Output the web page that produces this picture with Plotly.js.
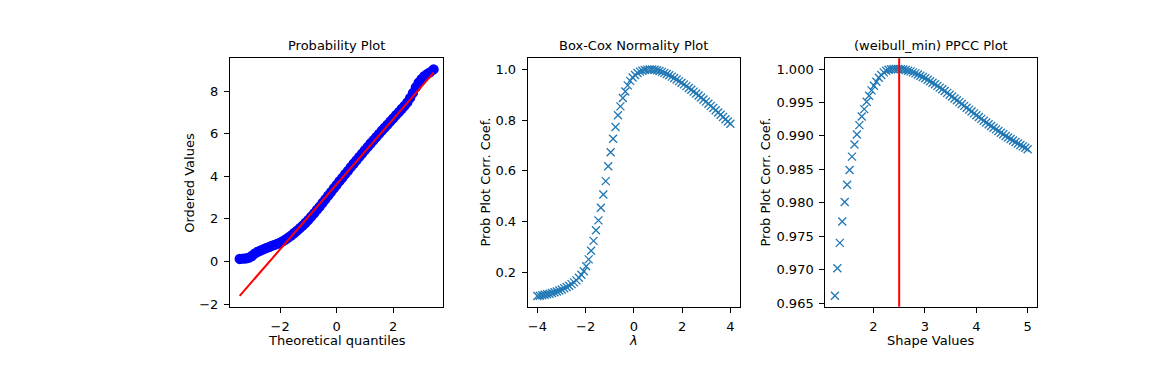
<!DOCTYPE html>
<html><head><meta charset="utf-8">
<script src="https://cdn.plot.ly/plotly-3.0.1.min.js"></script>
<style>html,body{margin:0;padding:0;background:#fff}#chart{width:1152px;height:384px}</style>
</head><body><div id="chart"></div>
<script>
// ---- Probability plot (Q-Q vs normal) ----
const qqTheoretical = [-3.43,-3.3,-3.2,-3.1,-3.0,-2.9,-2.8,-2.7,-2.6,-2.5,-2.4,-2.3,-2.2,-2.1,-2.0,
  -1.9,-1.8,-1.7,-1.6,-1.5,-1.4,-1.3,-1.2,-1.1,-1.0,-0.9,-0.8,-0.7,-0.6,-0.5,-0.4,-0.3,-0.2,-0.1,
  0.0,0.1,0.2,0.3,0.4,0.5,0.6,0.7,0.8,0.9,1.0,1.1,1.2,1.3,1.4,1.5,1.6,1.7,1.8,1.9,2.0,
  2.1,2.2,2.3,2.4,2.5,2.6,2.7,2.8,2.9,3.0,3.1,3.2,3.3,3.43];
const qqOrdered = [0.12,0.14,0.15,0.18,0.26,0.37,0.45,0.51,0.57,0.63,0.68,0.73,0.78,0.83,0.89,
  0.96,1.04,1.13,1.23,1.34,1.45,1.57,1.69,1.82,1.96,2.11,2.26,2.42,2.58,2.75,2.92,3.09,3.26,3.43,
  3.60,3.77,3.93,4.10,4.26,4.43,4.59,4.75,4.91,5.07,5.23,5.38,5.54,5.69,5.84,5.99,6.14,6.29,6.43,6.58,6.72,
  6.87,7.01,7.16,7.31,7.47,7.68,7.92,8.18,8.40,8.56,8.70,8.80,8.88,9.02];
const fitLineQ = [-3.43, 3.43];
const fitLineValues = [-1.61, 8.87];

// ---- Box-Cox normality plot ----
const boxcoxLambda = [-4.000,-3.899,-3.797,-3.696,-3.595,-3.494,-3.392,-3.291,-3.190,-3.089,
  -2.987,-2.886,-2.785,-2.684,-2.582,-2.481,-2.380,-2.278,-2.177,-2.076,
  -1.975,-1.873,-1.772,-1.671,-1.570,-1.468,-1.367,-1.266,-1.165,-1.063,
  -0.962,-0.861,-0.759,-0.658,-0.557,-0.456,-0.354,-0.253,-0.152,-0.051,
  0.051,0.152,0.253,0.354,0.456,0.557,0.658,0.759,0.861,0.962,
  1.063,1.165,1.266,1.367,1.468,1.570,1.671,1.772,1.873,1.975,
  2.076,2.177,2.278,2.380,2.481,2.582,2.684,2.785,2.886,2.987,
  3.089,3.190,3.291,3.392,3.494,3.595,3.696,3.797,3.899,4.000];
const boxcoxPPCC = [0.105,0.106,0.108,0.110,0.112,0.114,0.117,0.120,0.123,0.127,
  0.131,0.136,0.141,0.146,0.152,0.159,0.167,0.177,0.189,0.203,
  0.223,0.250,0.284,0.323,0.365,0.404,0.454,0.506,0.559,0.618,
  0.673,0.726,0.773,0.819,0.854,0.887,0.913,0.937,0.955,0.968,
  0.978,0.986,0.9915,0.995,0.9975,0.9992,1.000,0.9998,0.9988,0.9968,
  0.994,0.9905,0.9865,0.982,0.977,0.9715,0.966,0.960,0.954,0.9475,
  0.941,0.934,0.927,0.920,0.9125,0.905,0.897,0.889,0.881,0.873,
  0.8645,0.856,0.8475,0.839,0.830,0.821,0.8125,0.8035,0.7945,0.7855];

// ---- weibull_min PPCC plot ----
const shapeValues = [1.250,1.297,1.345,1.392,1.440,1.487,1.535,1.582,1.630,1.677,
  1.725,1.772,1.820,1.867,1.915,1.962,2.009,2.057,2.104,2.152,
  2.199,2.247,2.294,2.342,2.389,2.437,2.484,2.532,2.579,2.627,
  2.674,2.722,2.769,2.816,2.864,2.911,2.959,3.006,3.054,3.101,
  3.149,3.196,3.244,3.291,3.339,3.386,3.434,3.481,3.528,3.576,
  3.623,3.671,3.718,3.766,3.813,3.861,3.908,3.956,4.003,4.051,
  4.098,4.146,4.193,4.241,4.288,4.335,4.383,4.430,4.478,4.525,
  4.573,4.620,4.668,4.715,4.763,4.810,4.858,4.905,4.953,5.000];
const shapePPCC = [0.9661,0.9702,0.9740,0.9772,0.9801,0.9827,0.9849,0.9869,0.9887,0.9902,
  0.9916,0.9929,0.9940,0.9951,0.9960,0.9968,0.9975,0.9981,0.9987,0.9991,
  0.9995,0.99975,0.9999,0.99996,1.0000,1.0000,1.0000,0.99998,0.99993,0.99985,
  0.99975,0.99964,0.99950,0.99935,0.99918,0.99900,0.99881,0.99862,0.99840,0.99818,
  0.99795,0.99772,0.99747,0.99722,0.99696,0.99670,0.99643,0.99616,0.99588,0.99560,
  0.99532,0.99504,0.99476,0.99448,0.99420,0.99392,0.99364,0.99336,0.99308,0.99281,
  0.99254,0.99227,0.99200,0.99174,0.99148,0.99122,0.99097,0.99072,0.99047,0.99023,
  0.98999,0.98976,0.98953,0.98930,0.98908,0.98886,0.98864,0.98843,0.98822,0.98801];
const bestShape = 2.5;

const titles = ['Probability Plot', 'Box-Cox Normality Plot', '(weibull_min) PPCC Plot'];
const xLabels = ['Theoretical quantiles', '<i>λ</i>', 'Shape Values'];
const yLabels = ['Ordered Values', 'Prob Plot Corr. Coef.', 'Prob Plot Corr. Coef.'];

const W = 1152, H = 384;
const FONT = 'DejaVu Sans, sans-serif';
const tabBlue = '#1f77b4';

function axis(domain, range, extra) {
  return Object.assign({
    domain: domain, range: range, showline: true, mirror: true, linecolor: '#000', linewidth: 1,
    ticks: 'outside', ticklen: 5, tickwidth: 1, tickcolor: '#000', showgrid: false, zeroline: false,
    tickfont: {family: FONT, size: 13, color: '#000'}, fixedrange: true, ticklabelstandoff: 3
  }, extra);
}

const px = [[230, 443.3], [527.7, 740], [825.3, 1037.3]];
const yTop = 58.3, yBot = 306.7;
const yDom = [1 - yBot / H, 1 - yTop / H];
const xDom = px.map(p => [p[0] / W, p[1] / W]);

const traces = [
  {x: qqTheoretical, y: qqOrdered, xaxis: 'x', yaxis: 'y', type: 'scatter', mode: 'markers',
   marker: {symbol: 'circle', size: 9, color: '#0000ff', line: {color: '#0000ff', width: 1.3}}, hoverinfo: 'x+y'},
  {x: fitLineQ, y: fitLineValues, xaxis: 'x', yaxis: 'y', type: 'scatter', mode: 'lines',
   line: {color: '#ff0000', width: 2}},
  {x: boxcoxLambda, y: boxcoxPPCC, xaxis: 'x2', yaxis: 'y2', type: 'scatter', mode: 'markers',
   marker: {symbol: 'x-thin', size: 8, color: tabBlue, line: {color: tabBlue, width: 1.3}}},
  {x: shapeValues, y: shapePPCC, xaxis: 'x3', yaxis: 'y3', type: 'scatter', mode: 'markers',
   marker: {symbol: 'x-thin', size: 8, color: tabBlue, line: {color: tabBlue, width: 1.3}}}
];

const annotations = [];
for (let i = 0; i < 3; i++) {
  const cx = (px[i][0] + px[i][1]) / 2 / W;
  annotations.push({text: titles[i], x: cx, y: 1 - 45 / H, xref: 'paper', yref: 'paper',
    xanchor: 'center', yanchor: 'middle', showarrow: false, font: {family: FONT, size: 13, color: '#000'}});
  annotations.push({text: xLabels[i], x: cx, y: 1 - 340.7 / H, xref: 'paper', yref: 'paper',
    xanchor: 'center', yanchor: 'middle', showarrow: false, font: {family: FONT, size: 13, color: '#000'}});
}
const yLabelX = [189.3, 485, 765];
for (let i = 0; i < 3; i++) {
  annotations.push({text: yLabels[i], x: yLabelX[i] / W, y: (yDom[0] + yDom[1]) / 2, xref: 'paper', yref: 'paper',
    xanchor: 'center', yanchor: 'middle', textangle: -90, showarrow: false, font: {family: FONT, size: 13, color: '#000'}});
}

const layout = {
  width: W, height: H, margin: {l: 0, r: 0, t: 0, b: 0}, paper_bgcolor: '#fff', plot_bgcolor: '#fff',
  showlegend: false, font: {family: FONT, size: 13, color: '#000'},
  xaxis: axis(xDom[0], [-3.773, 3.773], {anchor: 'y', tickmode: 'linear', tick0: 0, dtick: 2}),
  yaxis: axis(yDom, [-2.12, 9.54], {anchor: 'x', tickmode: 'linear', tick0: 0, dtick: 2}),
  xaxis2: axis(xDom[1], [-4.4, 4.4], {anchor: 'y2', tickmode: 'linear', tick0: 0, dtick: 2}),
  yaxis2: axis(yDom, [0.063, 1.044], {anchor: 'x2', tickmode: 'linear', tick0: 0, dtick: 0.2, tickformat: '.1f'}),
  xaxis3: axis(xDom[2], [1.0625, 5.1875], {anchor: 'y3', tickmode: 'linear', tick0: 0, dtick: 1}),
  yaxis3: axis(yDom, [0.96445, 1.0016], {anchor: 'x3', tickmode: 'linear', tick0: 0.965, dtick: 0.005, tickformat: '.3f'}),
  shapes: [{type: 'line', xref: 'x3', yref: 'y3 domain', x0: bestShape, x1: bestShape, y0: 0, y1: 1,
            line: {color: '#ff0000', width: 2}, layer: 'above'}],
  annotations: annotations
};

Plotly.newPlot('chart', traces, layout, {displayModeBar: false, staticPlot: true});
</script></body></html>
